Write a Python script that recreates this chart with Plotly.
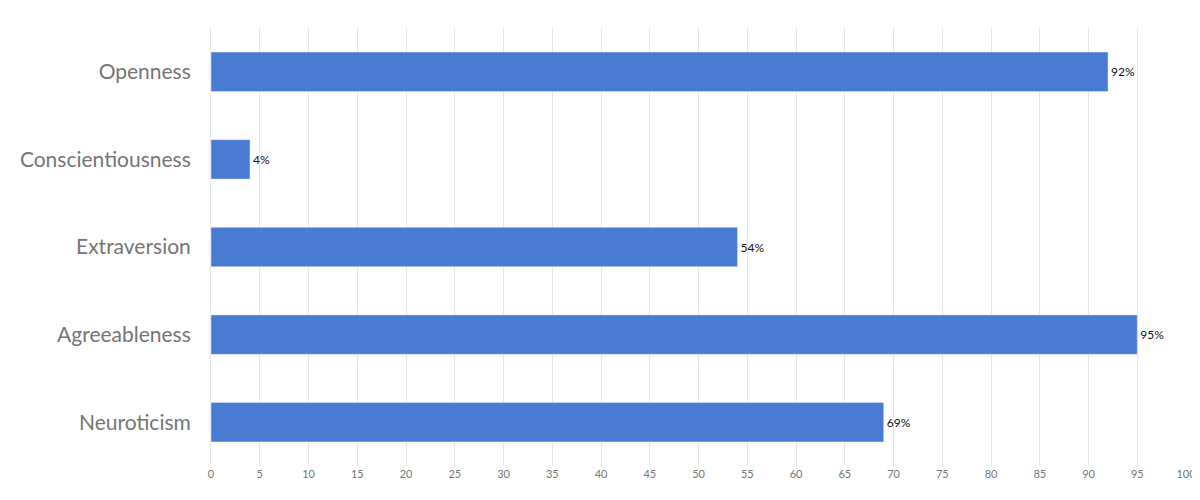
import plotly.graph_objects as go

categories = ["Openness", "Conscientiousness", "Extraversion", "Agreeableness", "Neuroticism"]
values = [92, 4, 54, 95, 69]
tick_vals = list(range(0, 101, 5))

fig = go.Figure(go.Bar(
    x=values, y=categories, orientation="h",
    marker_color="#4a7bd3",
    text=[f"{v}%" for v in values], textposition="outside",
    textfont=dict(size=12, color="#111", family="Lato"),
    cliponaxis=False,
))
fig.update_layout(
    width=1200, height=500,
    margin=dict(l=200, r=12, t=20, b=42),
    plot_bgcolor="white", paper_bgcolor="white",
    bargap=0.55, showlegend=False,
    font=dict(family="Lato"),
)
fig.update_xaxes(range=[0, 100], tickvals=tick_vals, showgrid=True, gridcolor="#e6e6e6",
                 zeroline=False, tickfont=dict(size=11, color="#757575"), ticks="", showline=False)
fig.update_yaxes(autorange="reversed", tickfont=dict(size=21, color="#757575"),
                 ticks="outside", ticklen=15, tickcolor="white", showline=True, linecolor="#e6e6e6")
fig.write_html("out.html")
